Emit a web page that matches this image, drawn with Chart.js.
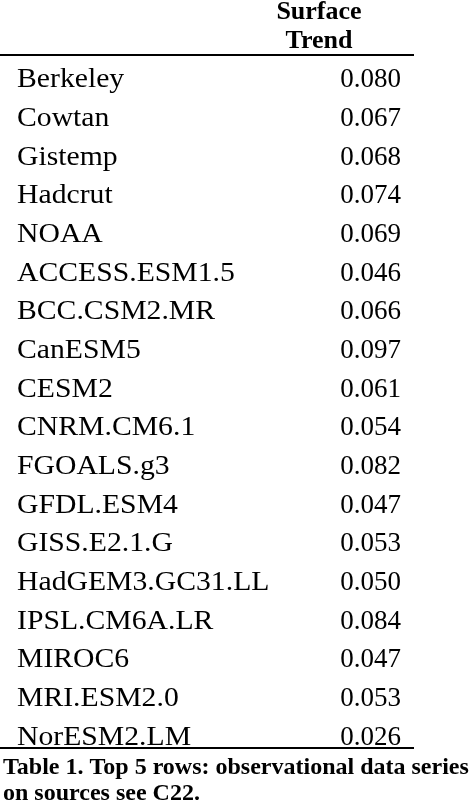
<!DOCTYPE html>
<html lang="en">
<head>
    <meta charset="UTF-8">
    <title>Surface Trend table</title>
    <style>
        body { margin: 0; background: #fff; }
        #chart { width: 474px; height: 804px; }
    </style>
</head>
<body>
    <div id="chart"><canvas id="myChart"></canvas></div>
    <script src="https://cdn.jsdelivr.net/npm/chart.js"></script>
</body>
</html>
<script>
    let names = ["Berkeley", "Cowtan", "Gistemp", "Hadcrut", "NOAA", "ACCESS.ESM1.5", "BCC.CSM2.MR", "CanESM5", "CESM2",
        "CNRM.CM6.1", "FGOALS.g3", "GFDL.ESM4", "GISS.E2.1.G", "HadGEM3.GC31.LL", "IPSL.CM6A.LR", "MIROC6", "MRI.ESM2.0", "NorESM2.LM"]
    let trends = [0.080, 0.067, 0.068, 0.074, 0.069, 0.046, 0.066, 0.097, 0.061, 0.054, 0.082, 0.047, 0.053, 0.050, 0.084, 0.047, 0.053, 0.026]
    let header = ["Surface", "Trend"]
    let caption = ["Table 1. Top 5 rows: observational data series", "on sources see C22."]

    const serif = '"Liberation Serif", "Times New Roman", serif'

    // draws the table text at the y positions of the category scale
    const tablePlugin = {
        id: "table",
        afterDraw(chart) {
            const ctx = chart.ctx
            const y = chart.scales.y
            ctx.save()
            ctx.fillStyle = "#000"
            ctx.textBaseline = "middle"
            ctx.font = "bold 26px " + serif
            ctx.textAlign = "center"
            ctx.fillText(header[0], 319, 12)
            ctx.fillText(header[1], 319, 41)
            ctx.fillRect(0, 54, 414, 2)
            ctx.font = "27px " + serif
            names.forEach((n, i) => {
                const py = y.getPixelForValue(i)
                ctx.save()
                ctx.translate(17, py)
                ctx.scale(1.1, 1)
                ctx.textAlign = "left"
                ctx.fillText(n, 0, 0)
                ctx.restore()
                ctx.textAlign = "right"
                ctx.fillText(trends[i].toFixed(3), 401, py)
            })
            ctx.fillRect(0, 747, 414, 2)
            ctx.font = "bold 24px " + serif
            ctx.textAlign = "left"
            ctx.fillText(caption[0], 3, 768)
            ctx.fillText(caption[1], 3, 794)
            ctx.restore()
        }
    }

    let chart = new Chart(document.getElementById("myChart"), {
        type: "bar",
        data: {
            labels: names,
            datasets: [{ data: trends.map(() => null) }]
        },
        options: {
            indexAxis: "y",
            responsive: true,
            maintainAspectRatio: false,
            animation: false,
            layout: { padding: { top: 61, bottom: 47, left: 0, right: 0 } },
            plugins: { legend: { display: false }, tooltip: { enabled: false } },
            scales: {
                x: { display: false, min: 0, max: 0.1 },
                y: { display: false, offset: true }
            }
        },
        plugins: [tablePlugin]
    })
</script>
